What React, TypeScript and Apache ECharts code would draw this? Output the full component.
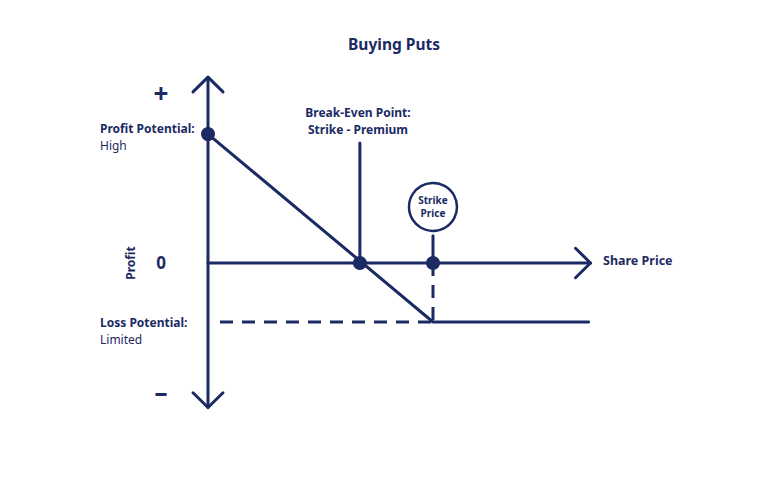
import React, { useEffect, useRef } from "react";
import * as echarts from "echarts";

const NAVY = "#1c2a64";

// Diagram values (share price units, profit units)
const strikePrice = 6;
const breakEven = 4.05;
const maxProfit = 4.37;
const maxLoss = -2;
const priceAxisEnd = 10.2;
const profitAxisTop = 6.3;
const profitAxisBottom = -4.9;
const payoffEnd = 10.15;

const payoffLine: [number, number][] = [
  [0, maxProfit],
  [strikePrice, maxLoss],
  [payoffEnd, maxLoss],
];
const keyPoints: [number, number][] = [
  [0, maxProfit],
  [breakEven, 0],
  [strikePrice, 0],
];
const breakEvenStem: [number, number][] = [
  [breakEven, 0],
  [breakEven, 4.07],
];
const strikeStem: [number, number][] = [
  [strikePrice, 0],
  [strikePrice, 0.92],
];
const strikeDashed: [number, number][] = [
  [strikePrice, 0],
  [strikePrice, maxLoss],
];
const lossDashed: [number, number][] = [
  [0.32, maxLoss],
  [strikePrice, maxLoss],
];
const strikeBubble: [number, number][] = [[strikePrice, 1.9]];

export default function App() {
  const ref = useRef<HTMLDivElement>(null);
  useEffect(() => {
    if (!ref.current) return;
    const chart = echarts.init(ref.current, undefined, { renderer: "svg" });
    const ln = (data: [number, number][], extra: any = {}) => ({
      type: "line",
      data,
      symbol: "none",
      silent: true,
      lineStyle: { color: NAVY, width: 3, cap: "round", join: "round", ...(extra.lineStyle || {}) },
      z: extra.z ?? 2,
    });
    const font = "'Noto Sans', sans-serif";
    const txt = (text: string, x: number, y: number, opts: any = {}) => ({
      type: "text",
      x,
      y,
      rotation: opts.rotation || 0,
      style: {
        text,
        fill: NAVY,
        font: `${opts.weight || "bold"} ${opts.size || 12}px ${font}`,
        textAlign: opts.align || "left",
        textVerticalAlign: "middle",
      },
    });
    chart.setOption({
      animation: false,
      backgroundColor: "#ffffff",
      grid: { left: 170.5, right: 122, top: 71.25, bottom: 73.5 },
      xAxis: { type: "value", min: -1, max: 12, show: false },
      yAxis: { type: "value", min: -5, max: 6.5, show: false },
      graphic: [
        txt("Buying Puts", 394, 44, { size: 15.5, align: "center" }),
        txt("+", 161, 93, { size: 26, align: "center" }),
        txt("0", 161, 262, { size: 17, align: "center" }),
        txt("–", 161, 392, { size: 26, align: "center" }),
        txt("Profit", 130, 263, { size: 12, align: "center", rotation: Math.PI / 2 }),
        txt("Profit Potential:", 100, 128, { size: 12 }),
        txt("High", 100, 145, { size: 12, weight: "normal" }),
        txt("Loss Potential:", 100, 322, { size: 12 }),
        txt("Limited", 100, 339, { size: 12, weight: "normal" }),
        txt("Break-Even Point:", 358, 112, { size: 12, align: "center" }),
        txt("Strike - Premium", 358, 129, { size: 12, align: "center" }),
        txt("Share Price", 603, 260, { size: 12.5 }),
      ],
      series: [
        ln([[0, profitAxisBottom], [0, profitAxisTop]]),
        ln([[-0.4, profitAxisTop - 0.5], [0, profitAxisTop], [0.4, profitAxisTop - 0.5]]),
        ln([[-0.4, profitAxisBottom + 0.5], [0, profitAxisBottom], [0.4, profitAxisBottom + 0.5]]),
        ln([[0, 0], [priceAxisEnd, 0]]),
        ln([[priceAxisEnd - 0.4, 0.5], [priceAxisEnd, 0], [priceAxisEnd - 0.4, -0.5]]),
        ln(payoffLine),
        ln(breakEvenStem),
        ln(strikeStem),
        ln(strikeDashed, { lineStyle: { type: [13, 9], cap: "butt" } }),
        ln(lossDashed, { lineStyle: { type: [13, 9], cap: "butt" } }),
        {
          type: "scatter",
          data: keyPoints,
          symbol: "circle",
          symbolSize: 14,
          itemStyle: { color: NAVY, opacity: 1 },
          silent: true,
          z: 5,
        },
        {
          type: "scatter",
          data: strikeBubble,
          symbol: "circle",
          symbolSize: 48,
          itemStyle: { color: "#ffffff", borderColor: NAVY, borderWidth: 2.5, opacity: 1 },
          label: {
            show: true,
            position: "inside",
            formatter: "Strike\nPrice",
            color: NAVY,
            fontFamily: font,
            fontWeight: "bold",
            fontSize: 10,
            lineHeight: 13,
          },
          silent: true,
          z: 5,
        },
      ],
    });
    return () => chart.dispose();
  }, []);
  return (
    <div
      ref={ref}
      style={{ position: "fixed", left: 0, top: 0, width: 780, height: 484 }}
    />
  );
}
